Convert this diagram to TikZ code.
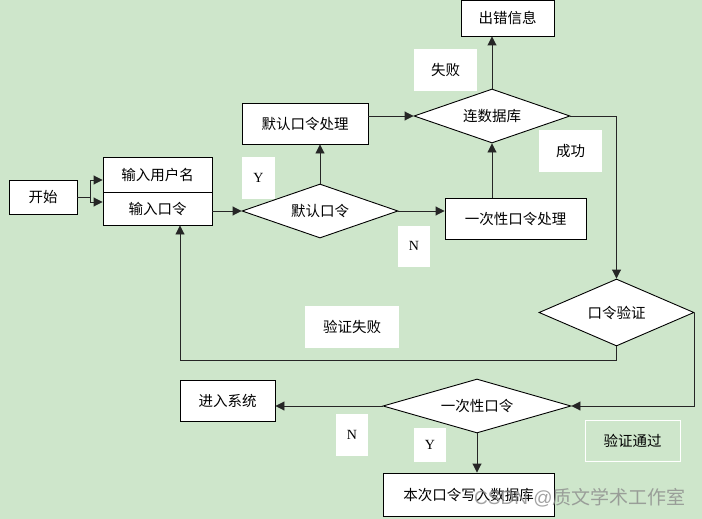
\documentclass[tikz,border=0pt]{standalone}
\usepackage{fontspec}
\setmainfont{Liberation Serif}
\newfontfamily\cjk{Noto Sans CJK SC}
\newfontfamily\wmfont{Liberation Sans}
\usetikzlibrary{shapes.geometric,arrows.meta}
\definecolor{bggreen}{RGB}{206,230,203}
\tikzset{
  box/.style={draw=black, line width=0.9pt, fill=white, inner sep=0pt, font=\cjk\fontsize{14.5}{17}\selectfont},
  dia/.style={draw=black, line width=0.9pt, fill=white, diamond, aspect=3, inner sep=0pt, font=\cjk\fontsize{14.5}{17}\selectfont},
  lab/.style={fill=white, inner sep=0pt, font=\cjk\fontsize{14.5}{17}\selectfont},
  yn/.style={fill=white, inner sep=0pt, font=\fontsize{14}{16}\selectfont},
  conn/.style={line width=0.9pt, draw=black!85},
  arr/.style={conn, -{Triangle[length=9pt,width=9pt]}}
}
\begin{document}
\begin{tikzpicture}[x=1pt,y=-1pt]
\fill[bggreen] (0,0) rectangle (702,519);
\useasboundingbox (0,0) rectangle (702,519);
% nodes
\node[box, minimum width=93pt, minimum height=36pt] (err) at (507.5,18) {出错信息};
\node[lab, minimum width=63pt, minimum height=42pt] (fail) at (445.5,70) {失败};
\node[dia, minimum width=156pt, minimum height=54pt] (db) at (492,116) {连数据库};
\node[lab, minimum width=63pt, minimum height=42pt] (succ) at (570.5,151) {成功};
\node[box, minimum width=126pt, minimum height=41pt] (defproc) at (305,123.5) {默认口令处理};
\node[yn, minimum width=33pt, minimum height=42pt] (y1) at (258.5,178) {Y};
\node[dia, minimum width=156pt, minimum height=54pt] (defdia) at (320,211) {默认口令};
\node[box, minimum width=141pt, minimum height=41pt] (onceproc) at (515.5,218.5) {一次性口令处理};
\node[yn, minimum width=32pt, minimum height=41pt] (n1) at (414,246) {N};
\node[box, minimum width=68pt, minimum height=34pt] (start) at (43,197) {开始};
\node[box, minimum width=109pt, minimum height=35pt] (user) at (157.5,174.5) {输入用户名};
\node[box, minimum width=109pt, minimum height=33pt] (pw) at (157.5,208.5) {输入口令};
\node[dia, minimum width=155pt, minimum height=67pt] (verify) at (616.5,312.5) {口令验证};
\node[lab, minimum width=94pt, minimum height=42pt] (vfail) at (352,327) {验证失败};
\node[dia, minimum width=188pt, minimum height=54pt] (oncedia) at (477,406) {一次性口令};
\node[box, minimum width=95pt, minimum height=41pt] (enter) at (227.5,400.5) {进入系统};
\node[yn, minimum width=32pt, minimum height=42pt] (n2) at (352,435) {N};
\node[yn, minimum width=32pt, minimum height=34pt] (y2) at (430,445) {Y};
\node[draw=white, line width=1pt, inner sep=0pt, minimum width=95pt, minimum height=41pt, font=\cjk\fontsize{14.5}{17}\selectfont] (vpass) at (632.5,440.5) {验证通过};
\node[box, minimum width=171pt, minimum height=43pt] (write) at (468.5,494.5) {本次口令写入数据库};
% connectors
\coordinate (br) at (90,197);
\draw[conn] (start.east) -- (br);
\draw[arr] (br) |- ([yshift=-5.5pt]user.west);
\draw[arr] (br) |- ([yshift=6.5pt]pw.west);
\draw[arr] (pw.east |- defdia.west) -- (defdia.west);
\draw[arr] (defdia.north) -- (defdia.north |- defproc.south);
\draw[arr] (defproc.east |- db.west) -- (db.west);
\draw[arr] (defdia.east) -- (defdia.east -| onceproc.west);
\draw[arr] (db.south |- onceproc.north) -- (db.south);
\draw[arr] (db.north) -- (db.north |- err.south);
\draw[arr] (db.east) -| (verify.north);
\coordinate (fb) at (180,360);
\draw[arr] (verify.south) |- (fb) -- (fb |- pw.south);
\draw[arr] (verify.east) |- (oncedia.east);
\draw[arr] (oncedia.west) -- (oncedia.west -| enter.east);
\draw[arr] (oncedia.south) -- (oncedia.south |- write.north);
% watermark
\node[text=black!45, opacity=0.8, inner sep=0pt, anchor=west] (wm) at (474,498) {\wmfont\fontsize{19}{22}\selectfont CSDN @\cjk 质文学术工作室};
\end{tikzpicture}
\end{document}
